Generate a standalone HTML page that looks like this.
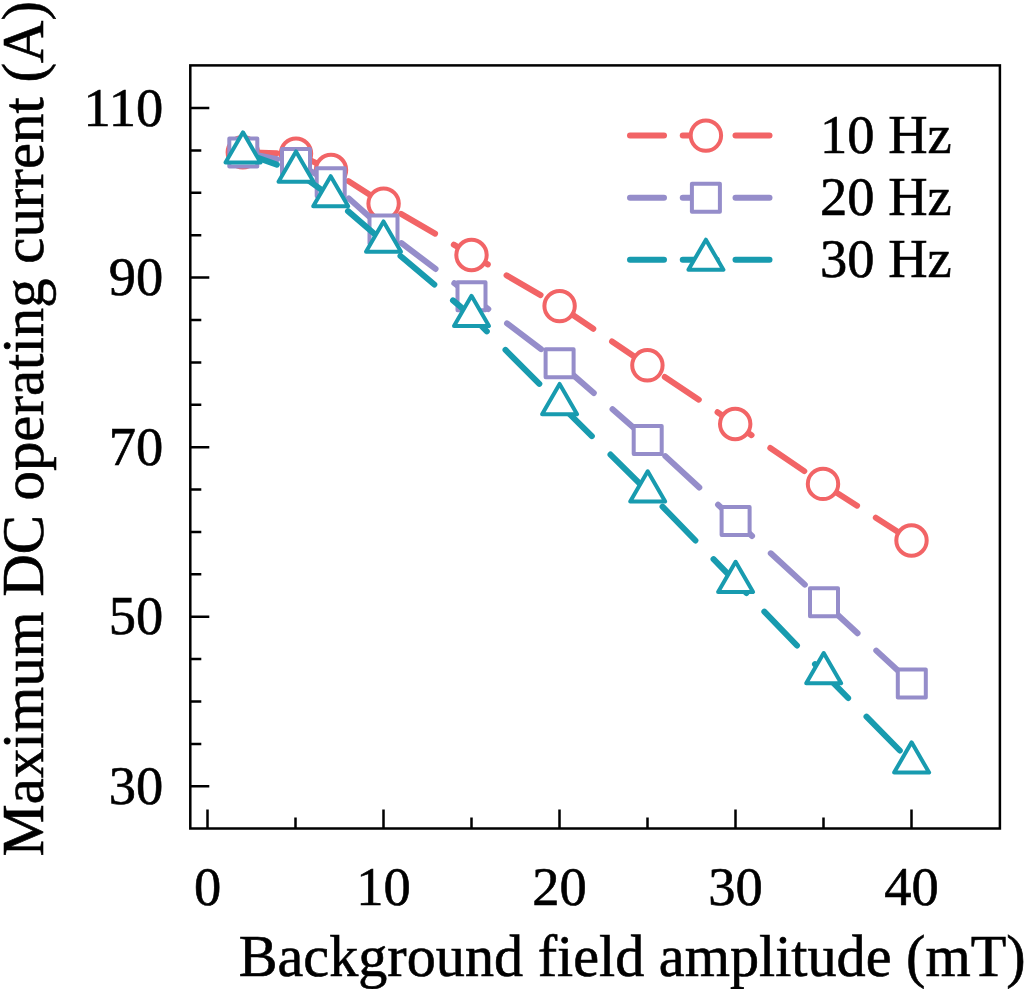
<!DOCTYPE html><html><head><meta charset="utf-8"><style>html,body{margin:0;padding:0;background:#fff;width:1025px;height:989px;overflow:hidden}svg{display:block}</style></head><body><svg width="1025" height="989" viewBox="0 0 1025 989">
<rect width="1025" height="989" fill="#fff"/>
<rect x="190.3" y="65.4" width="809.6" height="763.1" fill="none" stroke="#000" stroke-width="2.50"/>
<path d="M207.5 828.5V809.5M295.5 828.5V817.5M383.5 828.5V809.5M471.5 828.5V817.5M559.5 828.5V809.5M647.5 828.5V817.5M735.5 828.5V809.5M823.5 828.5V817.5M911.5 828.5V809.5M190.3 786.3H209.3M190.3 743.9H201.3M190.3 701.5H201.3M190.3 659.1H201.3M190.3 616.7H209.3M190.3 574.3H201.3M190.3 531.9H201.3M190.3 489.6H201.3M190.3 447.2H209.3M190.3 404.8H201.3M190.3 362.4H201.3M190.3 320.0H201.3M190.3 277.6H209.3M190.3 235.2H201.3M190.3 192.8H201.3M190.3 150.4H201.3M190.3 108.0H209.3" stroke="#000" stroke-width="2.50" fill="none"/>
<text x="163.3" y="125.6" font-family="&quot;Liberation Serif&quot;, serif" stroke="#000" stroke-width="0.60" font-size="54.5" text-anchor="end">110</text>
<text x="163.3" y="295.2" font-family="&quot;Liberation Serif&quot;, serif" stroke="#000" stroke-width="0.60" font-size="54.5" text-anchor="end">90</text>
<text x="163.3" y="464.8" font-family="&quot;Liberation Serif&quot;, serif" stroke="#000" stroke-width="0.60" font-size="54.5" text-anchor="end">70</text>
<text x="163.3" y="634.3" font-family="&quot;Liberation Serif&quot;, serif" stroke="#000" stroke-width="0.60" font-size="54.5" text-anchor="end">50</text>
<text x="163.3" y="803.9" font-family="&quot;Liberation Serif&quot;, serif" stroke="#000" stroke-width="0.60" font-size="54.5" text-anchor="end">30</text>
<text x="207.5" y="904.7" font-family="&quot;Liberation Serif&quot;, serif" stroke="#000" stroke-width="0.60" font-size="54.5" text-anchor="middle">0</text>
<text x="383.5" y="904.7" font-family="&quot;Liberation Serif&quot;, serif" stroke="#000" stroke-width="0.60" font-size="54.5" text-anchor="middle">10</text>
<text x="559.5" y="904.7" font-family="&quot;Liberation Serif&quot;, serif" stroke="#000" stroke-width="0.60" font-size="54.5" text-anchor="middle">20</text>
<text x="735.5" y="904.7" font-family="&quot;Liberation Serif&quot;, serif" stroke="#000" stroke-width="0.60" font-size="54.5" text-anchor="middle">30</text>
<text x="911.5" y="904.7" font-family="&quot;Liberation Serif&quot;, serif" stroke="#000" stroke-width="0.60" font-size="54.5" text-anchor="middle">40</text>
<text x="238.7" y="975.8" font-family="&quot;Liberation Serif&quot;, serif" stroke="#000" stroke-width="0.60" font-size="58.2">Background field amplitude (mT)</text>
<text transform="translate(43.1 856.5) rotate(-90)" x="0" y="0" font-family="&quot;Liberation Serif&quot;, serif" stroke="#000" stroke-width="0.60" font-size="58.8">Maximum DC operating current (A)</text>
<g fill="none" stroke="#F26466" stroke-width="6.00" stroke-linecap="round" stroke-linejoin="round"><line x1="242.80" y1="152.30" x2="276.80" y2="153.13"/><polyline points="295.55,153.59 296.00,153.60 329.55,169.32"/><line x1="348.30" y1="181.05" x2="382.30" y2="202.77"/><line x1="401.05" y1="213.80" x2="435.05" y2="233.69"/><polyline points="453.80,244.65 471.50,255.00 487.80,264.45"/><line x1="506.55" y1="275.33" x2="540.55" y2="295.05"/><polyline points="559.30,305.93 559.60,306.10 593.30,328.82"/><line x1="612.05" y1="341.46" x2="646.05" y2="364.39"/><line x1="664.80" y1="376.93" x2="698.80" y2="399.66"/><polyline points="717.55,412.20 735.20,424.00 751.55,435.15"/><line x1="770.30" y1="447.95" x2="804.30" y2="471.14"/><line x1="823.05" y1="483.93" x2="857.05" y2="505.68"/><line x1="875.80" y1="517.67" x2="909.80" y2="539.41"/></g><circle cx="242.80" cy="152.30" r="15.20" fill="#fff" stroke="#F26466" stroke-width="4.00"/><circle cx="296.00" cy="153.60" r="15.20" fill="#fff" stroke="#F26466" stroke-width="4.00"/><circle cx="331.00" cy="170.00" r="15.20" fill="#fff" stroke="#F26466" stroke-width="4.00"/><circle cx="383.60" cy="203.60" r="15.20" fill="#fff" stroke="#F26466" stroke-width="4.00"/><circle cx="471.50" cy="255.00" r="15.20" fill="#fff" stroke="#F26466" stroke-width="4.00"/><circle cx="559.60" cy="306.10" r="15.20" fill="#fff" stroke="#F26466" stroke-width="4.00"/><circle cx="647.40" cy="365.30" r="15.20" fill="#fff" stroke="#F26466" stroke-width="4.00"/><circle cx="735.20" cy="424.00" r="15.20" fill="#fff" stroke="#F26466" stroke-width="4.00"/><circle cx="823.00" cy="483.90" r="15.20" fill="#fff" stroke="#F26466" stroke-width="4.00"/><circle cx="911.50" cy="540.50" r="15.20" fill="#fff" stroke="#F26466" stroke-width="4.00"/>
<g fill="none" stroke="#958DCA" stroke-width="6.00" stroke-linecap="round" stroke-linejoin="round"><line x1="243.30" y1="152.50" x2="277.30" y2="159.27"/><line x1="296.05" y1="163.03" x2="330.05" y2="181.84"/><line x1="348.80" y1="198.38" x2="382.80" y2="228.77"/><line x1="401.55" y1="243.12" x2="435.55" y2="268.97"/><polyline points="454.30,283.22 471.50,296.30 488.30,309.06"/><line x1="507.05" y1="323.30" x2="541.05" y2="349.11"/><line x1="559.80" y1="363.37" x2="593.80" y2="392.97"/><line x1="612.55" y1="409.30" x2="646.55" y2="438.90"/><line x1="665.30" y1="456.12" x2="699.30" y2="487.45"/><polyline points="718.05,504.73 735.60,520.90 752.05,536.05"/><line x1="770.80" y1="553.31" x2="804.80" y2="584.62"/><polyline points="823.55,601.89 824.00,602.30 857.55,633.29"/><line x1="876.30" y1="650.61" x2="910.30" y2="682.01"/></g><rect x="229.30" y="138.50" width="28.00" height="28.00" fill="#fff" stroke="#958DCA" stroke-width="4.00" stroke-linejoin="round"/><rect x="282.00" y="149.00" width="28.00" height="28.00" fill="#fff" stroke="#958DCA" stroke-width="4.00" stroke-linejoin="round"/><rect x="316.70" y="168.20" width="28.00" height="28.00" fill="#fff" stroke="#958DCA" stroke-width="4.00" stroke-linejoin="round"/><rect x="369.50" y="215.40" width="28.00" height="28.00" fill="#fff" stroke="#958DCA" stroke-width="4.00" stroke-linejoin="round"/><rect x="457.50" y="282.30" width="28.00" height="28.00" fill="#fff" stroke="#958DCA" stroke-width="4.00" stroke-linejoin="round"/><rect x="545.60" y="349.20" width="28.00" height="28.00" fill="#fff" stroke="#958DCA" stroke-width="4.00" stroke-linejoin="round"/><rect x="633.70" y="425.90" width="28.00" height="28.00" fill="#fff" stroke="#958DCA" stroke-width="4.00" stroke-linejoin="round"/><rect x="721.60" y="506.90" width="28.00" height="28.00" fill="#fff" stroke="#958DCA" stroke-width="4.00" stroke-linejoin="round"/><rect x="810.00" y="588.30" width="28.00" height="28.00" fill="#fff" stroke="#958DCA" stroke-width="4.00" stroke-linejoin="round"/><rect x="897.80" y="669.40" width="28.00" height="28.00" fill="#fff" stroke="#958DCA" stroke-width="4.00" stroke-linejoin="round"/>
<g fill="none" stroke="#189BAF" stroke-width="6.00" stroke-linecap="round" stroke-linejoin="round"><line x1="243.00" y1="152.50" x2="276.84" y2="164.69"/><polyline points="295.50,171.42 296.00,171.60 329.34,195.33"/><line x1="348.00" y1="211.14" x2="381.83" y2="240.17"/><line x1="400.49" y1="255.97" x2="434.33" y2="284.58"/><polyline points="452.99,300.35 471.50,316.00 486.83,331.33"/><line x1="505.49" y1="349.99" x2="539.33" y2="383.83"/><polyline points="557.99,402.49 559.60,404.10 591.83,436.03"/><line x1="610.49" y1="454.52" x2="644.32" y2="488.05"/><line x1="662.54" y1="506.68" x2="695.41" y2="540.52"/><polyline points="713.53,559.18 735.60,581.90 746.33,593.02"/><line x1="764.34" y1="611.68" x2="796.99" y2="645.52"/><polyline points="814.99,664.18 823.70,673.20 848.13,698.02"/><line x1="866.49" y1="716.68" x2="899.80" y2="750.51"/></g><path d="M243.00 132.37L260.50 162.57L225.50 162.57Z" fill="#fff" stroke="#189BAF" stroke-width="4.00" stroke-linejoin="round"/><path d="M296.00 151.47L313.50 181.67L278.50 181.67Z" fill="#fff" stroke="#189BAF" stroke-width="4.00" stroke-linejoin="round"/><path d="M330.70 176.17L348.20 206.37L313.20 206.37Z" fill="#fff" stroke="#189BAF" stroke-width="4.00" stroke-linejoin="round"/><path d="M383.50 221.47L401.00 251.67L366.00 251.67Z" fill="#fff" stroke="#189BAF" stroke-width="4.00" stroke-linejoin="round"/><path d="M471.50 295.87L489.00 326.07L454.00 326.07Z" fill="#fff" stroke="#189BAF" stroke-width="4.00" stroke-linejoin="round"/><path d="M559.60 383.97L577.10 414.17L542.10 414.17Z" fill="#fff" stroke="#189BAF" stroke-width="4.00" stroke-linejoin="round"/><path d="M647.70 471.27L665.20 501.47L630.20 501.47Z" fill="#fff" stroke="#189BAF" stroke-width="4.00" stroke-linejoin="round"/><path d="M735.60 561.77L753.10 591.97L718.10 591.97Z" fill="#fff" stroke="#189BAF" stroke-width="4.00" stroke-linejoin="round"/><path d="M823.70 653.07L841.20 683.27L806.20 683.27Z" fill="#fff" stroke="#189BAF" stroke-width="4.00" stroke-linejoin="round"/><path d="M911.60 742.37L929.10 772.57L894.10 772.57Z" fill="#fff" stroke="#189BAF" stroke-width="4.00" stroke-linejoin="round"/>
<line x1="630.00" y1="135.60" x2="664.00" y2="135.60" stroke="#F26466" stroke-width="6.00" stroke-linecap="round"/>
<line x1="682.75" y1="135.60" x2="716.75" y2="135.60" stroke="#F26466" stroke-width="6.00" stroke-linecap="round"/>
<line x1="735.50" y1="135.60" x2="769.50" y2="135.60" stroke="#F26466" stroke-width="6.00" stroke-linecap="round"/>
<circle cx="705.90" cy="135.60" r="15.20" fill="#fff" stroke="#F26466" stroke-width="4.00"/>
<text x="820.0" y="153.0" font-family="&quot;Liberation Serif&quot;, serif" stroke="#000" stroke-width="0.60" font-size="54.5">10 Hz</text>
<line x1="630.00" y1="197.70" x2="664.00" y2="197.70" stroke="#958DCA" stroke-width="6.00" stroke-linecap="round"/>
<line x1="682.75" y1="197.70" x2="716.75" y2="197.70" stroke="#958DCA" stroke-width="6.00" stroke-linecap="round"/>
<line x1="735.50" y1="197.70" x2="769.50" y2="197.70" stroke="#958DCA" stroke-width="6.00" stroke-linecap="round"/>
<rect x="691.90" y="183.70" width="28.00" height="28.00" fill="#fff" stroke="#958DCA" stroke-width="4.00" stroke-linejoin="round"/>
<text x="820.0" y="215.1" font-family="&quot;Liberation Serif&quot;, serif" stroke="#000" stroke-width="0.60" font-size="54.5">20 Hz</text>
<line x1="630.00" y1="259.80" x2="664.00" y2="259.80" stroke="#189BAF" stroke-width="6.00" stroke-linecap="round"/>
<line x1="682.75" y1="259.80" x2="716.75" y2="259.80" stroke="#189BAF" stroke-width="6.00" stroke-linecap="round"/>
<line x1="735.50" y1="259.80" x2="769.50" y2="259.80" stroke="#189BAF" stroke-width="6.00" stroke-linecap="round"/>
<path d="M705.90 239.67L723.40 269.87L688.40 269.87Z" fill="#fff" stroke="#189BAF" stroke-width="4.00" stroke-linejoin="round"/>
<text x="820.0" y="277.2" font-family="&quot;Liberation Serif&quot;, serif" stroke="#000" stroke-width="0.60" font-size="54.5">30 Hz</text>
</svg></body></html>
